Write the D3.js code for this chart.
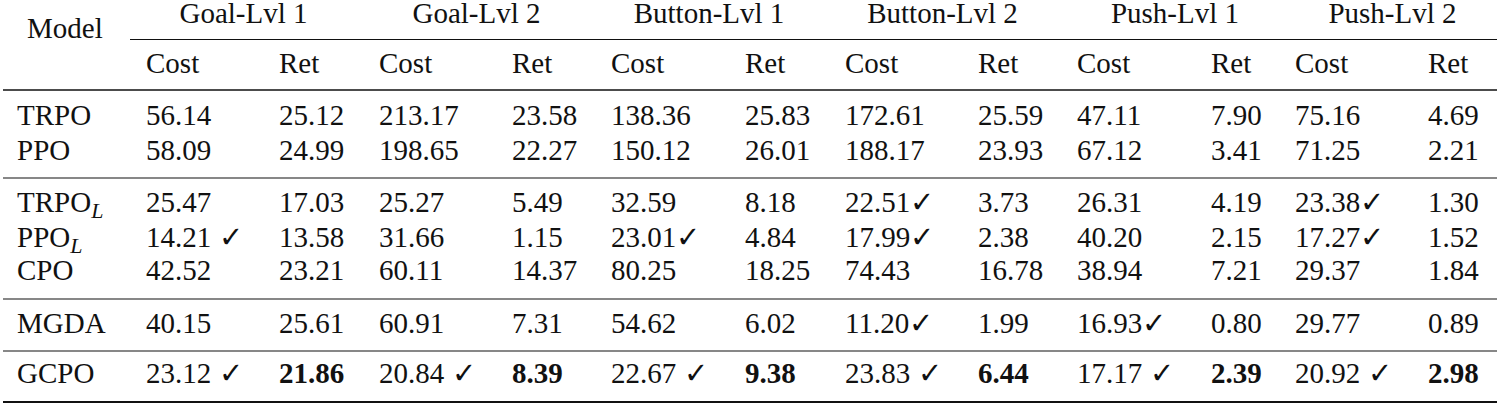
<!DOCTYPE html>
<html><head><meta charset="utf-8">
<script src="https://cdn.jsdelivr.net/npm/d3@7"></script>
<style>body{margin:0;background:#fff}</style>
</head><body><svg id="t" width="1502" height="407"></svg>
<script>
var groups = ['Goal-Lvl 1','Goal-Lvl 2','Button-Lvl 1','Button-Lvl 2','Push-Lvl 1','Push-Lvl 2'];
var models = [['TRPO',''],['PPO',''],['TRPO','L'],['PPO','L'],['CPO',''],['MGDA',''],['GCPO','']];
var rows = [
  ['56.14','25.12','213.17','23.58','138.36','25.83','172.61','25.59','47.11','7.90','75.16','4.69'],
  ['58.09','24.99','198.65','22.27','150.12','26.01','188.17','23.93','67.12','3.41','71.25','2.21'],
  ['25.47','17.03','25.27','5.49','32.59','8.18','22.51\u2713','3.73','26.31','4.19','23.38\u2713','1.30'],
  ['14.21 \u2713','13.58','31.66','1.15','23.01\u2713','4.84','17.99\u2713','2.38','40.20','2.15','17.27\u2713','1.52'],
  ['42.52','23.21','60.11','14.37','80.25','18.25','74.43','16.78','38.94','7.21','29.37','1.84'],
  ['40.15','25.61','60.91','7.31','54.62','6.02','11.20\u2713','1.99','16.93\u2713','0.80','29.77','0.89'],
  ['23.12 \u2713','21.86','20.84 \u2713','8.39','22.67 \u2713','9.38','23.83 \u2713','6.44','17.17 \u2713','2.39','20.92 \u2713','2.98']
];
var boldRow = 6;

var colX = [146,279,379,512,611,745,845,978,1077,1211,1295,1428];
var rowY = [125,160,212,247,280,333,383];
var svg = d3.select('#t');
var font = "'Liberation Serif', 'Times New Roman', serif";
var fs = 29;

function txt(x, y, s, anchor){
  return svg.append('text').attr('x', x).attr('y', y).style('font-family', font)
    .attr('font-size', fs).attr('fill', '#111').attr('text-anchor', anchor || 'start').text(s);
}

txt(27, 38, 'Model');
groups.forEach(function(g, i){
  var c = (colX[2*i] + colX[2*i+1] + 62) / 2;
  txt(c, 23, g, 'middle');
  txt(colX[2*i], 73, 'Cost');
  txt(colX[2*i+1], 73, 'Ret');
});

models.forEach(function(m, r){
  var t = txt(17, rowY[r], m[0]);
  if (m[1]) t.append('tspan').attr('font-style', 'italic').attr('font-size', 22).attr('dy', 6).text(m[1]);
  rows[r].forEach(function(v, c){
    var e = txt(colX[c], rowY[r], v);
    if (r == boldRow && c % 2 == 1) e.attr('font-weight', 'bold');
  });
});

var rules = [{y:39.5, x0:130, w:1.1}, {y:90, x0:3, w:1.6}, {y:178, x0:3, w:1.2},
             {y:299, x0:3, w:1.2}, {y:351, x0:3, w:1.2}, {y:402, x0:3, w:2.2}];
rules.forEach(function(r){
  svg.append('line').attr('x1', r.x0).attr('x2', 1497).attr('y1', r.y).attr('y2', r.y)
    .attr('stroke', '#111').attr('stroke-width', r.w);
});
</script></body></html>
